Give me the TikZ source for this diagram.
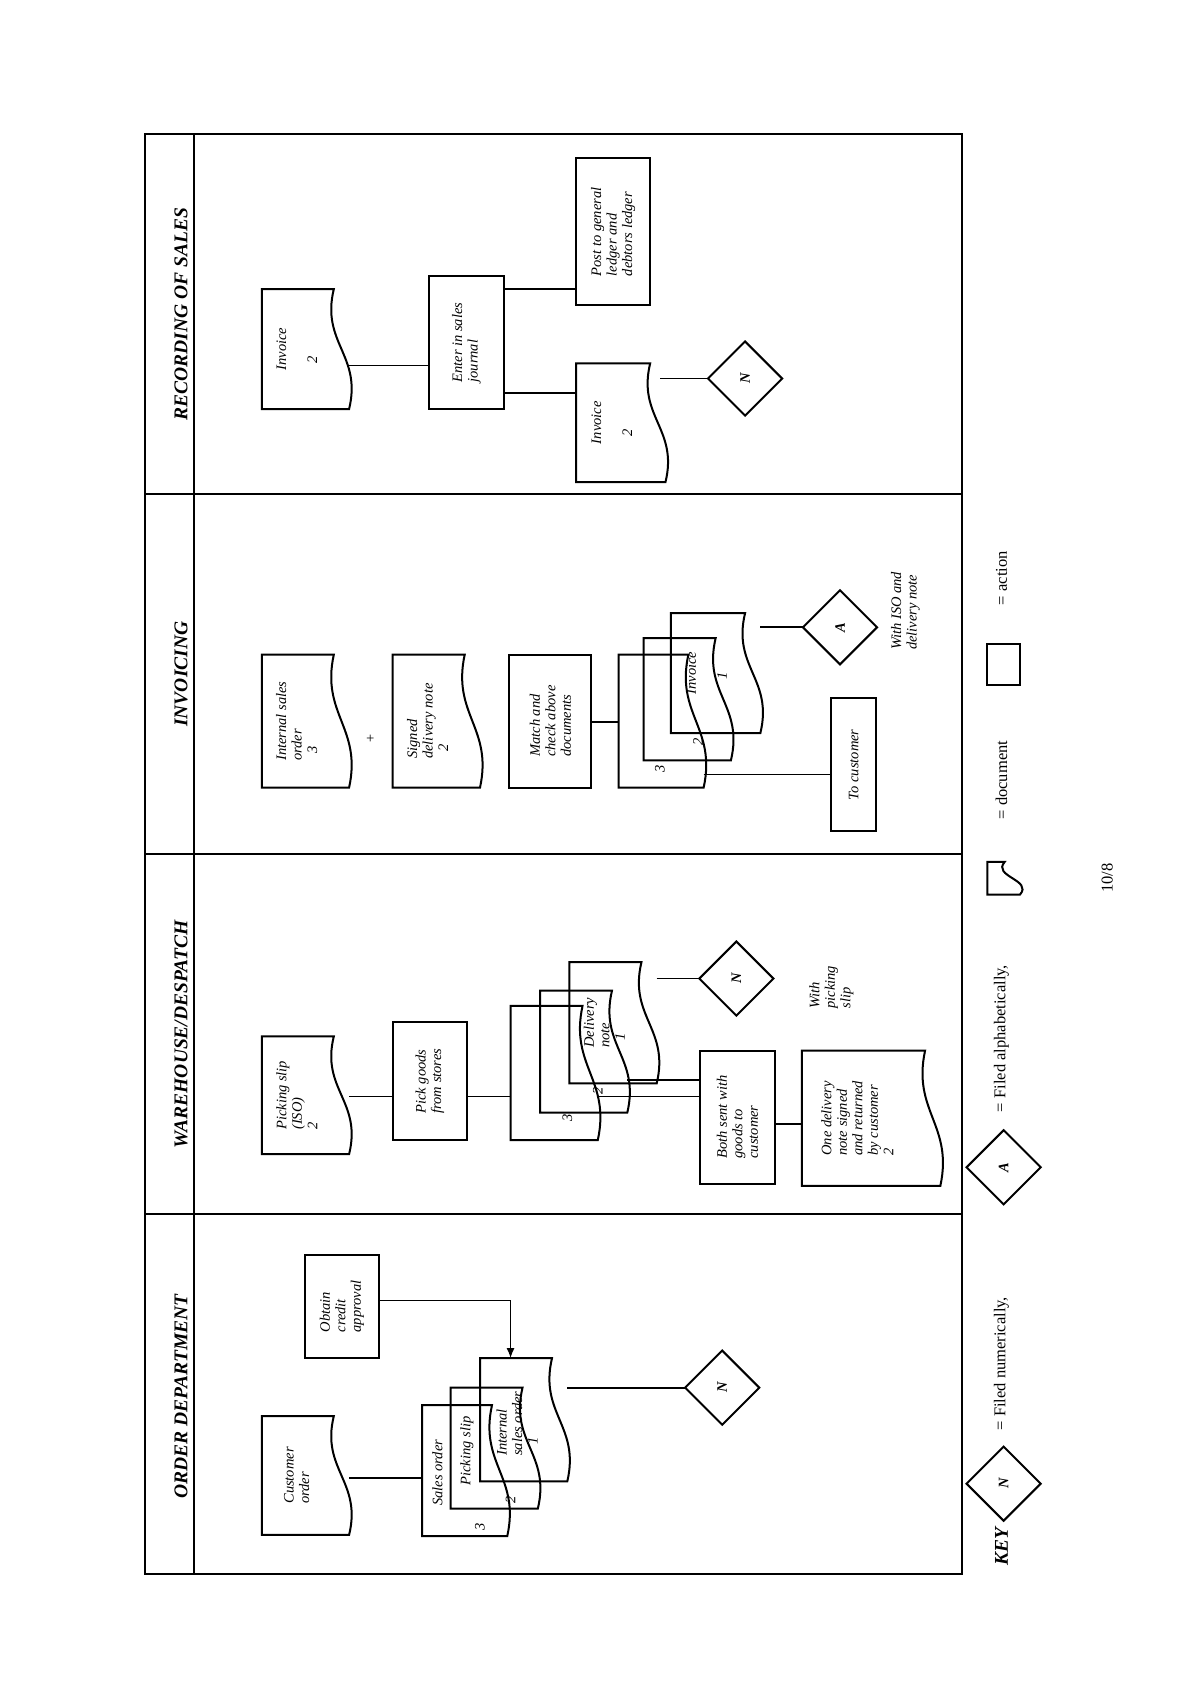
\documentclass[tikz,border=0pt]{standalone}
\usepackage{fontspec}
\setmainfont{Liberation Serif}
\usetikzlibrary{arrows.meta}
\newcommand\docp[5]{% x1,y1,x2,y2,name
 \draw[box] (#1,#2) -- (#3-14,#2) .. controls (#3-26,{#2+0.45*(#4-#2)}) and (#3+12,{#2+0.55*(#4-#2)}) .. (#3,#4) -- (#1,#4) -- cycle;
 \coordinate (#5) at ({#1+0.4*(#3-#1)},{(#2+#4)/2});}
\newcommand\actp[5]{\draw[box] (#1,#2) rectangle (#3,#4); \coordinate (#5) at ({(#1+#3)/2},{(#2+#4)/2});}
\newcommand\diam[3]{\draw[box] (#1-34,#2) -- (#1,#2-34) -- (#1+34,#2) -- (#1,#2+34) -- cycle;
 \node[lbl] at (#1,#2) {\bfseries #3};}
\begin{document}
\begin{tikzpicture}[x=1.0909pt,y=-1.0909pt,
 box/.style={line width=2pt,line join=miter},
 ln/.style={line width=1.7pt},
 lbl/.style={rotate=90,font=\fontsize{14.5}{15.5}\selectfont\itshape,align=left,inner sep=0pt},
 ttl/.style={rotate=90,font=\fontsize{19.5}{20}\selectfont\bfseries\itshape,inner sep=0pt},
 key/.style={rotate=90,font=\fontsize{16.5}{17}\selectfont,inner sep=0pt}]
\useasboundingbox (0,0) rectangle (1100,1556.5);
% frame
\draw[line width=1.7pt] (133,123) rectangle (882,1443);
\draw[line width=1.7pt] (178,123) -- (178,1443);
\foreach \y in {453,783,1113} \draw[line width=1.7pt] (133,\y) -- (882,\y);
\node[ttl] (t1) at (166,1280) {ORDER DEPARTMENT};
\node[ttl] (t2) at (166,948) {WAREHOUSE/DESPATCH};
\node[ttl] (t3) at (166,618) {INVOICING};
\node[ttl] (t4) at (166,288) {RECORDING OF SALES};
% ORDER DEPARTMENT
\docp{240}{1298}{320}{1407}{co}\node[lbl] at (co) {Customer\\order};
\draw[ln] (320,1355) -- (387,1355);
\docp{387}{1288}{465}{1408}{so}\node[lbl] at (401,1350) {Sales order};\node[lbl] at (440,1400) {3};
\docp{413}{1272}{493}{1383}{ps}\node[lbl] at (428,1330) {Picking slip};\node[lbl] at (468,1375) {2};
\docp{440}{1245}{520}{1358}{iso}\node[lbl] at (474,1305) {Internal\\sales order\\\ \ \ 1};
\actp{280}{1150}{347}{1245}{oc}\node[lbl] at (oc) {Obtain\\credit\\approval};
\draw[ln,-{Latex[length=10pt,width=8pt]}] (347,1192) -- (468,1192) -- (468,1245);
\draw[ln] (520,1272) -- (628,1272);
\diam{662}{1272}{N}
% WAREHOUSE
\docp{240}{950}{320}{1058}{pk}\node[lbl] at (pk) {Picking slip\\(ISO)\\2};
\draw[ln] (320,1005) -- (360,1005);
\actp{360}{937}{428}{1045}{pg}\node[lbl] at (pg) {Pick goods\\from stores};
\draw[ln] (428,1005) -- (468,1005);
\docp{468}{922}{548}{1045}{d3}\node[lbl] at (520,1025) {3};
\docp{495}{908}{575}{1020}{d2}\node[lbl] at (548,1000) {2};
\docp{522}{882}{602}{993}{d1}\node[lbl] at (d1) {Delivery\\note\\\ \ 1};
\draw[ln] (602,897) -- (641,897);
\diam{675}{897}{N}
\node[lbl] at (762,905) {With\\picking\\slip};
\draw[ln] (548,1005) -- (642,1005);
\draw[ln] (575,990) -- (642,990);
\actp{642}{963}{710}{1085}{bs}\node[lbl] at (bs) {Both sent with\\goods to\\customer};
\draw[ln] (710,1030) -- (735,1030);
\docp{735}{963}{862}{1087}{od}\node[lbl] at (od) {One delivery\\note signed\\and returned\\by customer\\2};
% INVOICING
\docp{240}{600}{320}{722}{i3}\node[lbl] at (i3) {Internal sales\\order\\\ \ 3};
\node[lbl] at (340,677) {+};
\docp{360}{600}{440}{722}{sd}\node[lbl] at (sd) {Signed\\delivery note\\\ \ 2};
\actp{467}{600}{542}{722}{mc}\node[lbl] at (mc) {Match and\\check above\\documents};
\draw[ln] (542,662) -- (567,662);
\docp{567}{600}{645}{722}{v3}\node[lbl] at (605,705) {3};
\docp{590}{585}{670}{697}{v2}\node[lbl] at (640,680) {2};
\docp{615}{562}{697}{672}{v1}\node[lbl] at (v1) {Invoice\\\\\ \ \ \ 1};
\draw[ln] (697,575) -- (736,575);
\diam{770}{575}{A}
\node[lbl] at (830,560) {With ISO and\\delivery note};
\draw[ln] (645,710) -- (762,710);
\actp{762}{640}{803}{762}{tc}\node[lbl] at (tc) {To customer};
% RECORDING
\docp{240}{265}{320}{375}{r1}\node[lbl] at (r1) {Invoice\\\\\ \ 2};
\draw[ln] (320,335) -- (393,335);
\actp{393}{253}{462}{375}{es}\node[lbl] at (es) {Enter in sales\\journal};
\draw[ln] (462,265) -- (528,265);
\actp{528}{145}{596}{280}{pl}\node[lbl] at (pl) {Post to general\\ledger and\\debtors ledger};
\draw[ln] (462,360) -- (528,360);
\docp{528}{333}{610}{442}{r2}\node[lbl] at (r2) {Invoice\\\\\ \ 2};
\draw[ln] (605,347) -- (649,347);
\diam{683}{347}{N}
% KEY
\node[ttl] (k) at (918,1418) {KEY};
\diam{920}{1360}{N}
\node[key] (k1) at (918,1250) {= Filed numerically,};
\diam{920}{1070}{A}
\node[key] (k2) at (918,952) {= Filed alphabetically,};
\docp{905}{790}{935}{820}{kd}
\node[key] (k3) at (918,715) {= document};
\actp{905}{590}{935}{628}{ka}
\node[key] (k4) at (918,530) {= action};
\node[key] (pgn) at (1015,805) {10/8};
\end{tikzpicture}
\end{document}
